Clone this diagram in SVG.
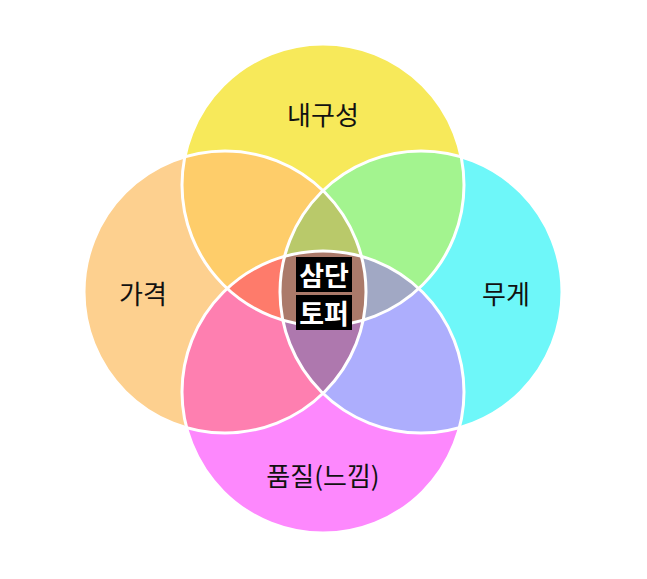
<svg xmlns="http://www.w3.org/2000/svg" width="647" height="579" viewBox="0 0 647 579">
<style>
.lbl{font-family:"Noto Sans CJK KR","Noto Sans",sans-serif;font-size:26px;fill:#111;text-anchor:middle;dominant-baseline:central}
.ctr{font-family:"Noto Sans CJK KR","Noto Sans",sans-serif;font-size:27px;font-weight:bold;fill:#fff;text-anchor:middle;dominant-baseline:central}
.ol{fill:none;stroke:#fff;stroke-width:3}
</style>
<defs>
<circle id="cT" cx="323" cy="185" r="141"/>
<circle id="cL" cx="225" cy="292" r="141"/>
<circle id="cR" cx="421" cy="292" r="141"/>
<circle id="cB" cx="323" cy="392" r="141"/>
<clipPath id="kT"><use href="#cT"/></clipPath>
<clipPath id="kL"><use href="#cL"/></clipPath>
<clipPath id="kR"><use href="#cR"/></clipPath>
<clipPath id="kB"><use href="#cB"/></clipPath>
</defs>
<rect width="647" height="579" fill="#fff"/>
<g id="circles">
<use href="#cL" fill="#fdd08f"/>
<use href="#cR" fill="#6ef7f9"/>
<use href="#cT" fill="#f7e95a"/>
<use href="#cB" fill="#fd88fd"/>
<g clip-path="url(#kT)"><use href="#cL" fill="#fecd6a"/><use href="#cR" fill="#a3f48f"/></g>
<g clip-path="url(#kB)"><use href="#cL" fill="#fe7fb0"/><use href="#cR" fill="#adaefd"/></g>
<g clip-path="url(#kT)"><g clip-path="url(#kL)"><use href="#cR" fill="#b9c96a"/><use href="#cB" fill="#fe7b6b"/></g><g clip-path="url(#kR)"><use href="#cB" fill="#a1a8c4"/></g></g>
<g clip-path="url(#kB)"><g clip-path="url(#kL)"><use href="#cR" fill="#ae78ae"/></g></g>
<g clip-path="url(#kT)"><g clip-path="url(#kB)"><g clip-path="url(#kL)"><use href="#cR" fill="#ab7a6a"/></g></g></g>
</g>
<g id="outlines">
<use href="#cT" class="ol"/><use href="#cL" class="ol"/><use href="#cR" class="ol"/><use href="#cB" class="ol"/>
</g>
<g id="n-top"><text class="lbl" x="323" y="113">내구성</text></g>
<g id="n-left"><text class="lbl" x="143" y="292">가격</text></g>
<g id="n-right"><text class="lbl" x="506" y="292">무게</text></g>
<g id="n-bottom"><text class="lbl" x="323" y="474">품질(느낌)</text></g>
<g id="n-center">
<rect x="296" y="257" width="56" height="35" fill="#000"/>
<rect x="296" y="295" width="56" height="35" fill="#000"/>
<text class="ctr" x="324" y="274">삼단</text>
<text class="ctr" x="324" y="312">토퍼</text>
</g>
</svg>
